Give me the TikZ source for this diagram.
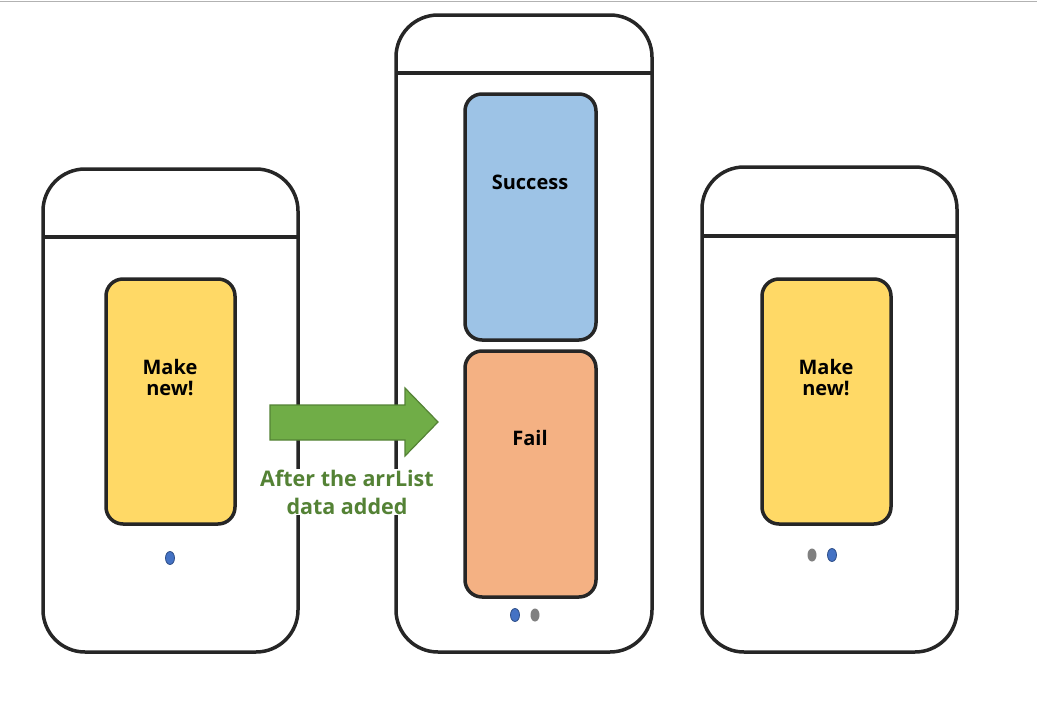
\documentclass[tikz,border=0pt]{standalone}
\usepackage{fontspec}
\usetikzlibrary{shapes.geometric}
\setmainfont{Open Sans}
\begin{document}
\begin{tikzpicture}[x=1pt,y=-1pt,
 phone/.style={draw=black!85,line width=3.5pt,rounded corners=42pt,fill=white},
 screen/.style={draw=black!85,line width=3.5pt,rounded corners=17pt},
 lbl/.style={font=\bfseries\fontsize{20}{24}\selectfont,align=center},
 dot/.style={draw=none,ellipse,minimum width=9pt,minimum height=13pt,inner sep=0pt},
 gray dot/.style={dot,fill=gray}]
\useasboundingbox (0,0) rectangle (1037,710);
\definecolor{yel}{HTML}{FFD966}\definecolor{sky}{HTML}{9DC3E6}
\definecolor{ora}{HTML}{F4B183}\definecolor{grn}{HTML}{70AD47}\definecolor{dgrn}{HTML}{548235}
\definecolor{dotblue}{HTML}{4472C4}
\tikzset{blue dot/.style={dot,fill=dotblue,draw=dotblue!70!black,line width=0.8pt}}
\draw[gray!60,line width=1pt] (0,1.5) -- (1037,1.5);
% phones
\draw[phone] (43,169) rectangle (298,652);
\draw[black!85,line width=3.5pt] (43,237) -- (298,237);
\draw[phone] (396,15) rectangle (652,652);
\draw[black!85,line width=3.5pt] (396,73) -- (652,73);
\draw[phone] (702,167) rectangle (957,652);
\draw[black!85,line width=3.5pt] (702,236) -- (957,236);
% screens
\draw[screen,fill=yel] (106,279) rectangle (235,524);
\node[lbl] (m1) at (170,378) {Make\\[-3pt]new!};
\draw[screen,fill=sky] (465,94) rectangle (596,340);
\node[lbl] (s) at (530,182) {Success};
\draw[screen,fill=ora] (465,351) rectangle (596,597);
\node[lbl] (f) at (530,438) {Fail};
\draw[screen,fill=yel] (762,279) rectangle (891,524);
\node[lbl] (m3) at (826,378) {Make\\[-3pt]new!};
% dots
\node[blue dot] (d1) at (170,558) {};
\node[blue dot] (d2) at (515,615) {};
\node[gray dot] (d3) at (535,615) {};
\node[gray dot] (d4) at (812,555) {};
\node[blue dot] (d5) at (832,555) {};
% arrow
\draw[fill=grn,draw=dgrn,line width=1.2pt] (270,405) -- (405,405) -- (405,388) -- (438,422) -- (405,456) -- (405,440) -- (270,440) -- cycle;
\node[fill=white,inner sep=1pt,text=dgrn,font=\bfseries\fontsize{21.5}{28}\selectfont,align=center] (t) at (347,492) {After the arrList\\data added};
\end{tikzpicture}
\end{document}
